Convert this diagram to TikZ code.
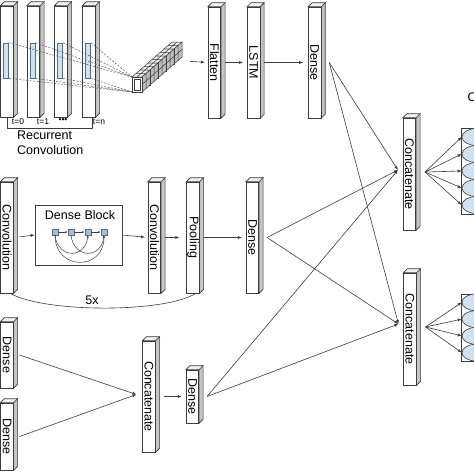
\documentclass[tikz,border=0pt]{standalone}
\usepackage{fontspec}
\setmainfont{Liberation Sans}
\usepackage{graphicx}
\usetikzlibrary{positioning,arrows.meta,calc,shapes.geometric}

\definecolor{linec}{HTML}{3C3C3C}
\definecolor{sidec}{HTML}{C4C4C4}
\definecolor{cellc}{HTML}{CFE2F3}
\definecolor{celld}{HTML}{4F6F8F}

\newcommand{\vtext}[1]{\rotatebox{-90}{#1}}

\begin{document}
\begin{tikzpicture}[x=1pt, y=-1pt,
  labfont/.style={font=\fontsize{12.5}{15}\selectfont},
  tlab/.style={font=\fontsize{8.5}{10}\selectfont, inner sep=0pt},
  layer/.style={draw=linec, fill=white, line width=0.6pt, minimum width=12.5pt, inner sep=0pt, labfont,
    append after command={\pgfextra{\let\lastbar\tikzlastnode
      \draw[linec, line width=0.6pt, fill=sidec] (\lastbar.north east) -- ++(4pt,4pt)
        -- ([shift={(4pt,4pt)}]\lastbar.south east) -- (\lastbar.south east) -- cycle;
      \draw[linec, line width=0.6pt, fill=black!5] (\lastbar.north west) -- ++(4pt,4pt)
        -- ([shift={(4pt,4pt)}]\lastbar.north east) -- (\lastbar.north east) -- cycle;}}},
  fmap/.style={draw=celld, fill=cellc, line width=0.7pt, minimum width=5pt, minimum height=35pt, inner sep=0pt},
  dcube/.style={draw=celld, fill=cellc!60!gray, line width=0.5pt, minimum size=6pt, inner sep=0pt},
  neuron/.style={ellipse, draw=linec, fill=cellc, line width=0.6pt, minimum width=28pt, minimum height=16.8pt, inner sep=0pt},
  arr/.style={-{Latex[length=4pt,width=3pt]}, linec, line width=0.6pt},
  hop/.style={arr, shorten <=4pt, shorten >=4pt},
  tiny/.style={-{Latex[length=2.5pt,width=2pt]}, linec, line width=0.5pt}]

\useasboundingbox (0,0) rectangle (474,474);
\clip (0,0) rectangle (474,474);
\fill[white] (0,0) rectangle (474,474);

% recurrent convolution over time steps
\foreach \i/\x in {1/7,2/33.5,3/61,4/89}{
  \node[layer, minimum height=111pt] (rc\i) at (\x,61.5) {};
  \node[fmap] (fm\i) at ([shift={(-1pt,1pt)}]rc\i.center) {};
}
\coordinate (kf-nw) at (132,77);
\coordinate (kf-sw) at (132,92);
\foreach \i in {1,...,4}{
  \draw[linec!85, dash pattern=on 2pt off 1.5pt, line width=0.5pt] (fm\i.north east) -- (kf-nw);
  \draw[linec!85, dash pattern=on 2pt off 1.5pt, line width=0.5pt] (fm\i.south east) -- (kf-sw);
}
% kernel made of small cubes
\foreach \k in {4,...,0}{
  \begin{scope}[shift={(8*\k,-7*\k)}]
    \draw[linec, line width=0.5pt, fill=black!8] (132,77) -- (140,70) -- (150,70) -- (142,77) -- cycle;
    \draw[linec, line width=0.5pt] (137,77) -- (145,70) (136,73.5) -- (146,73.5);
    \draw[linec, line width=0.5pt, fill=black!25] (142,77) -- (150,70) -- (150,85) -- (142,92) -- cycle;
    \draw[linec, line width=0.5pt] (142,84.5) -- (150,77.5) (146,73.5) -- (146,88.5);
    \draw[linec, line width=0.5pt, fill=white] (132,77) rectangle (142,92);
  \end{scope}
}
\draw[linec, line width=0.5pt] (134,79) rectangle (140,90);
\coordinate (kern) at (184,61);

\node[tlab] (t0) at (18,122) {t=0};
\node[tlab] (t1) at (43,122) {t=1};
\node[tlab] (tdots) at (63,121) {\textbullet\textbullet\textbullet};
\node[tlab] (tn) at (99,122) {t=n};
\draw[linec, line width=0.6pt] (rc1.south) -- ++(0,11) -| ([xshift=3pt]rc4.south);
\node[labfont, anchor=north west, align=left, inner sep=0pt] (rclab) at (17,131) {Recurrent\\Convolution};

% top branch
\node[layer, minimum height=111pt] (flat) at (214.5,62.5) {\vtext{Flatten}};
\node[layer, minimum height=111pt, right=26pt of flat] (lstm) {\vtext{LSTM}};
\node[layer, minimum height=111pt, right=48pt of lstm] (dense1) {\vtext{Dense}};
\draw[arr, shorten <=6pt, shorten >=3pt] (kern) -- (flat.west);
\draw[hop] (flat.east) -- (lstm.west);
\draw[hop, shorten >=5pt] (lstm.east) -- (dense1.west);

% middle branch
\node[layer, minimum height=111pt] (conv1) at (7,237.5) {\vtext{Convolution}};
\node[draw=linec, line width=0.6pt, minimum width=87pt, minimum height=60pt, inner sep=0pt] (dblock) at (78.5,235) {};
\node[labfont, inner sep=0pt] (dbt) at (80,215) {Dense Block};
\foreach \i/\x in {1/55,2/71,3/88,4/104}
  \node[dcube] (dc\i) at (\x,232) {};
\foreach \i/\j in {1/2,2/3,3/4}
  \draw[tiny] (dc\i) -- (dc\j);
\draw[tiny] (dc1.south) .. controls (58,259) and (85,259) .. (dc3.south);
\draw[tiny] (dc2.south) .. controls (74,259) and (101,259) .. (dc4.south);
\draw[tiny] (dc1.south) .. controls (55,271) and (104,271) .. (dc4.south);
\node[layer, minimum height=111pt] (conv2) at (154.5,237.5) {\vtext{Convolution}};
\node[layer, minimum height=111pt] (pool) at (193,237.5) {\vtext{Pooling}};
\node[layer, minimum height=111pt] (dense2) at (252.5,237.5) {\vtext{Dense}};
\draw[arr, shorten <=6pt] (conv1.east) -- (dblock.west);
\draw[arr, shorten >=3pt] (dblock.east) -- (conv2.west);
\draw[hop, shorten >=7pt] (conv2.east) -- (pool.west);
\draw[hop] (pool.east) -- (dense2.west);
\draw[linec, line width=0.6pt] ([xshift=3pt]conv1.south) .. controls (45,313) and (165,313) .. ([xshift=3pt]pool.south);
\node[labfont, inner sep=0pt] (rep) at (92,300) {5x};

% bottom branch
\node[layer, minimum height=66pt] (denseA) at (7,355) {\vtext{Dense}};
\node[layer, minimum height=67pt] (denseB) at (7,436.5) {\vtext{Dense}};
\node[layer, minimum height=111pt] (cat3) at (149,396.5) {\vtext{Concatenate}};
\node[layer, minimum height=53pt] (dense3) at (192.5,396.5) {\vtext{Dense}};
\coordinate (c3in) at ([shift={(-6pt,2pt)}]cat3.west);
\draw[arr] ([xshift=6pt]denseA.east) -- (c3in);
\draw[arr] ([xshift=6pt]denseB.east) -- (c3in);
\draw[hop, shorten >=4pt] ([xshift=4pt]cat3.east) -- (dense3.west);

% merging and outputs
\node[layer, minimum height=112pt] (cat1) at (409.5,174) {\vtext{Concatenate}};
\node[layer, minimum height=112pt] (cat2) at (410,329) {\vtext{Concatenate}};
\coordinate (c1in) at ([shift={(-5pt,4pt)}]cat1.west);
\coordinate (c2in) at ([shift={(-5pt,5pt)}]cat2.west);
\coordinate (d1o) at ([xshift=8pt]dense1.east);
\coordinate (d2o) at ([xshift=8pt]dense2.east);
\coordinate (d3o) at ([xshift=8pt]dense3.east);
\foreach \s in {d1o,d2o,d3o}{
  \draw[arr] (\s) -- (c1in);
  \draw[arr] (\s) -- (c2in);
}
\coordinate (c1o) at ([shift={(9pt,2pt)}]cat1.east);
\coordinate (c2o) at ([shift={(9pt,2pt)}]cat2.east);
\node[draw=linec, line width=0.6pt, minimum width=30pt, minimum height=86pt, inner sep=0pt] (outA) at (476,171) {};
\foreach \j in {1,...,5}
  \node[neuron] (oa\j) at (476,120+17*\j) {};
\node[draw=linec, line width=0.6pt, minimum width=30pt, minimum height=67pt, inner sep=0pt] (outB) at (476,327.5) {};
\foreach \j in {1,...,4}
  \node[neuron] (ob\j) at (476,285.6+16.75*\j) {};
\foreach \j in {1,...,5}
  \draw[arr] (c1o) -- (oa\j.west);
\foreach \j in {1,...,4}
  \draw[arr] (c2o) -- (ob\j.west);
\node[labfont, anchor=west, inner sep=0pt] (outlab) at (467.5,98) {Output};
\end{tikzpicture}
\end{document}
